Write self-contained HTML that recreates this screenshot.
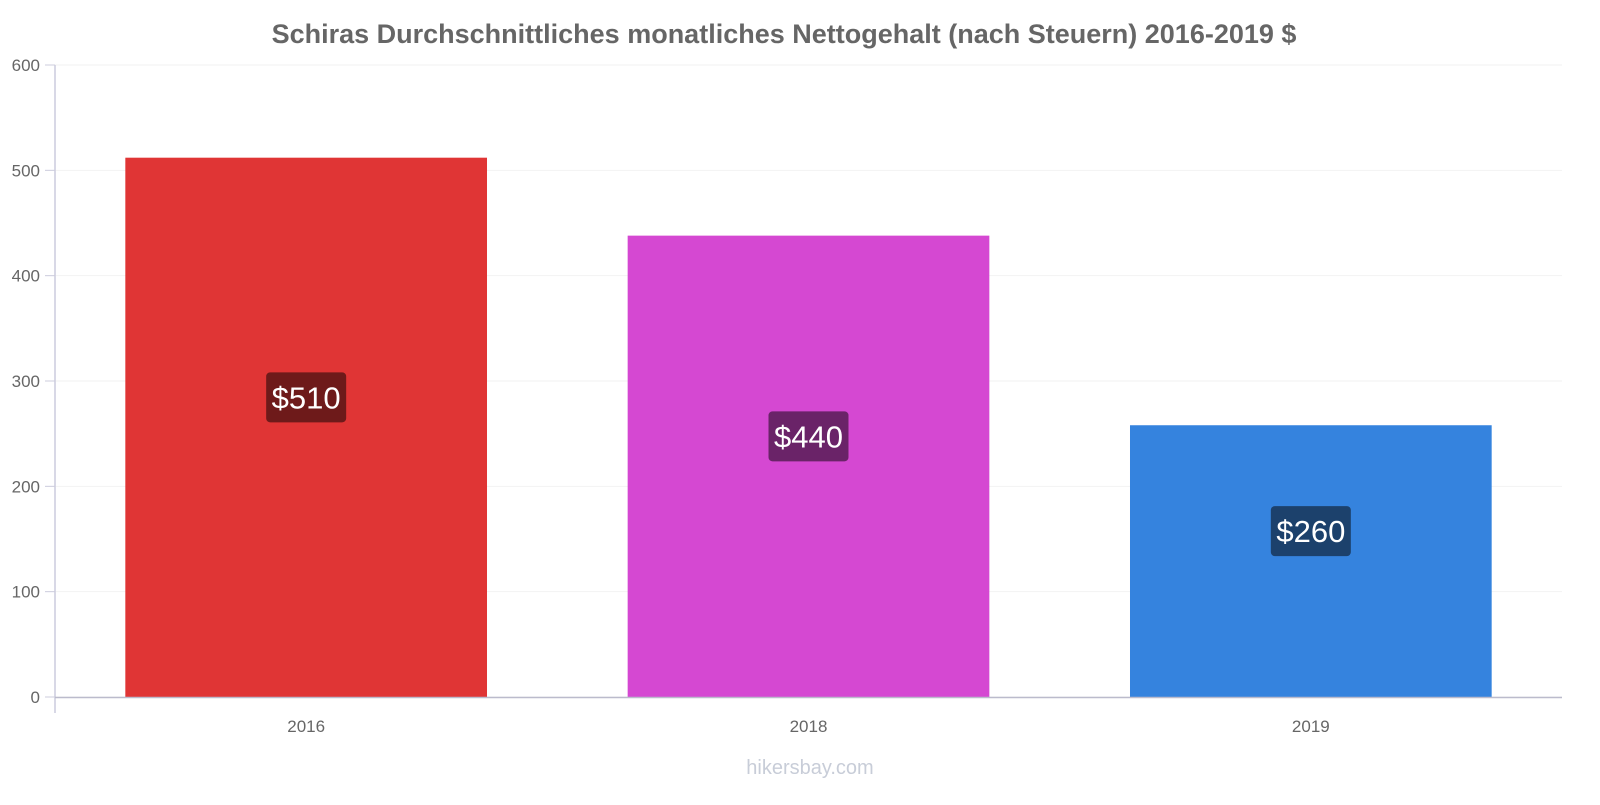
<!DOCTYPE html>
<html><head><meta charset="utf-8"><style>
body{margin:0;background:#fff;font-family:"Liberation Sans",sans-serif}
</style></head><body>
<svg width="1600" height="800" id="c">
<text x="784" y="43" text-anchor="middle" font-size="27" font-weight="bold" fill="#666">Schiras Durchschnittliches monatliches Nettogehalt (nach Steuern) 2016-2019 $</text>
<text x="810" y="774" text-anchor="middle" font-size="20" fill="#c8cdd8">hikersbay.com</text>
<g id="grid"></g><g id="bars"></g><g id="labels"></g>
<line x1="55" y1="65" x2="55" y2="713" stroke="#ccd" stroke-width="1.5"/>
<line x1="55" y1="697.5" x2="1562" y2="697.5" stroke="#bbc" stroke-width="1.5"/>
</svg>
<script>
const categories=["2016","2018","2019"];
const values=[512,438,258];
const valueLabels=["$510","$440","$260"];
const yTicks=[0,100,200,300,400,500,600];
const colors=["#e03535","#d548d2","#3583de"];
const labelBg=["#6e1a1a","#6a2368","#1c416c"];
const NS="http://www.w3.org/2000/svg";
const x0=55,x1=1562,yTop=65,yBot=697;
const y=v=>yBot-(v/600)*(yBot-yTop);
const bw=(x1-x0)/categories.length;
const xc=i=>x0+bw*(i+0.5);
function mk(t,a,p){const e=document.createElementNS(NS,t);for(const k in a)e.setAttribute(k,a[k]);p.appendChild(e);return e;}
const g=document.getElementById('grid'),b=document.getElementById('bars'),l=document.getElementById('labels'),svg=document.getElementById('c');
yTicks.forEach(t=>{
 const ln=mk('line',{x1:x0,x2:x1,y1:y(t),y2:y(t),stroke:'#f2f2f2'},g);
 
 
 const tk=mk('line',{x1:45,x2:55,y1:y(t),y2:y(t),stroke:'#ccd'},g);
 
 
 const tx=mk('text',{x:40,y:y(t)+6,'text-anchor':'end','font-size':17,fill:'#666'},g);
 tx.textContent=t;
 
 
});
categories.forEach((c,i)=>{
 const w=bw*0.72,cx=xc(i);
 const r=mk('rect',{x:cx-w/2,y:y(values[i]),width:w,height:yBot-y(values[i]),fill:colors[i]},b);
 
 
 const ty=(y(values[i])+yBot)/2-30;
 const bx=mk('rect',{x:cx-40,y:ty-25,width:80,height:50,rx:4,fill:labelBg[i]},l);
 
 
 const vt=mk('text',{x:cx,y:ty+11,'text-anchor':'middle','font-size':31,fill:'#fff'},l);
 vt.textContent=valueLabels[i];
 
 
 const xt=mk('text',{x:cx,y:732,'text-anchor':'middle','font-size':17,fill:'#666'},l);
 xt.textContent=c;
 
 
});
</script>
</body></html>
